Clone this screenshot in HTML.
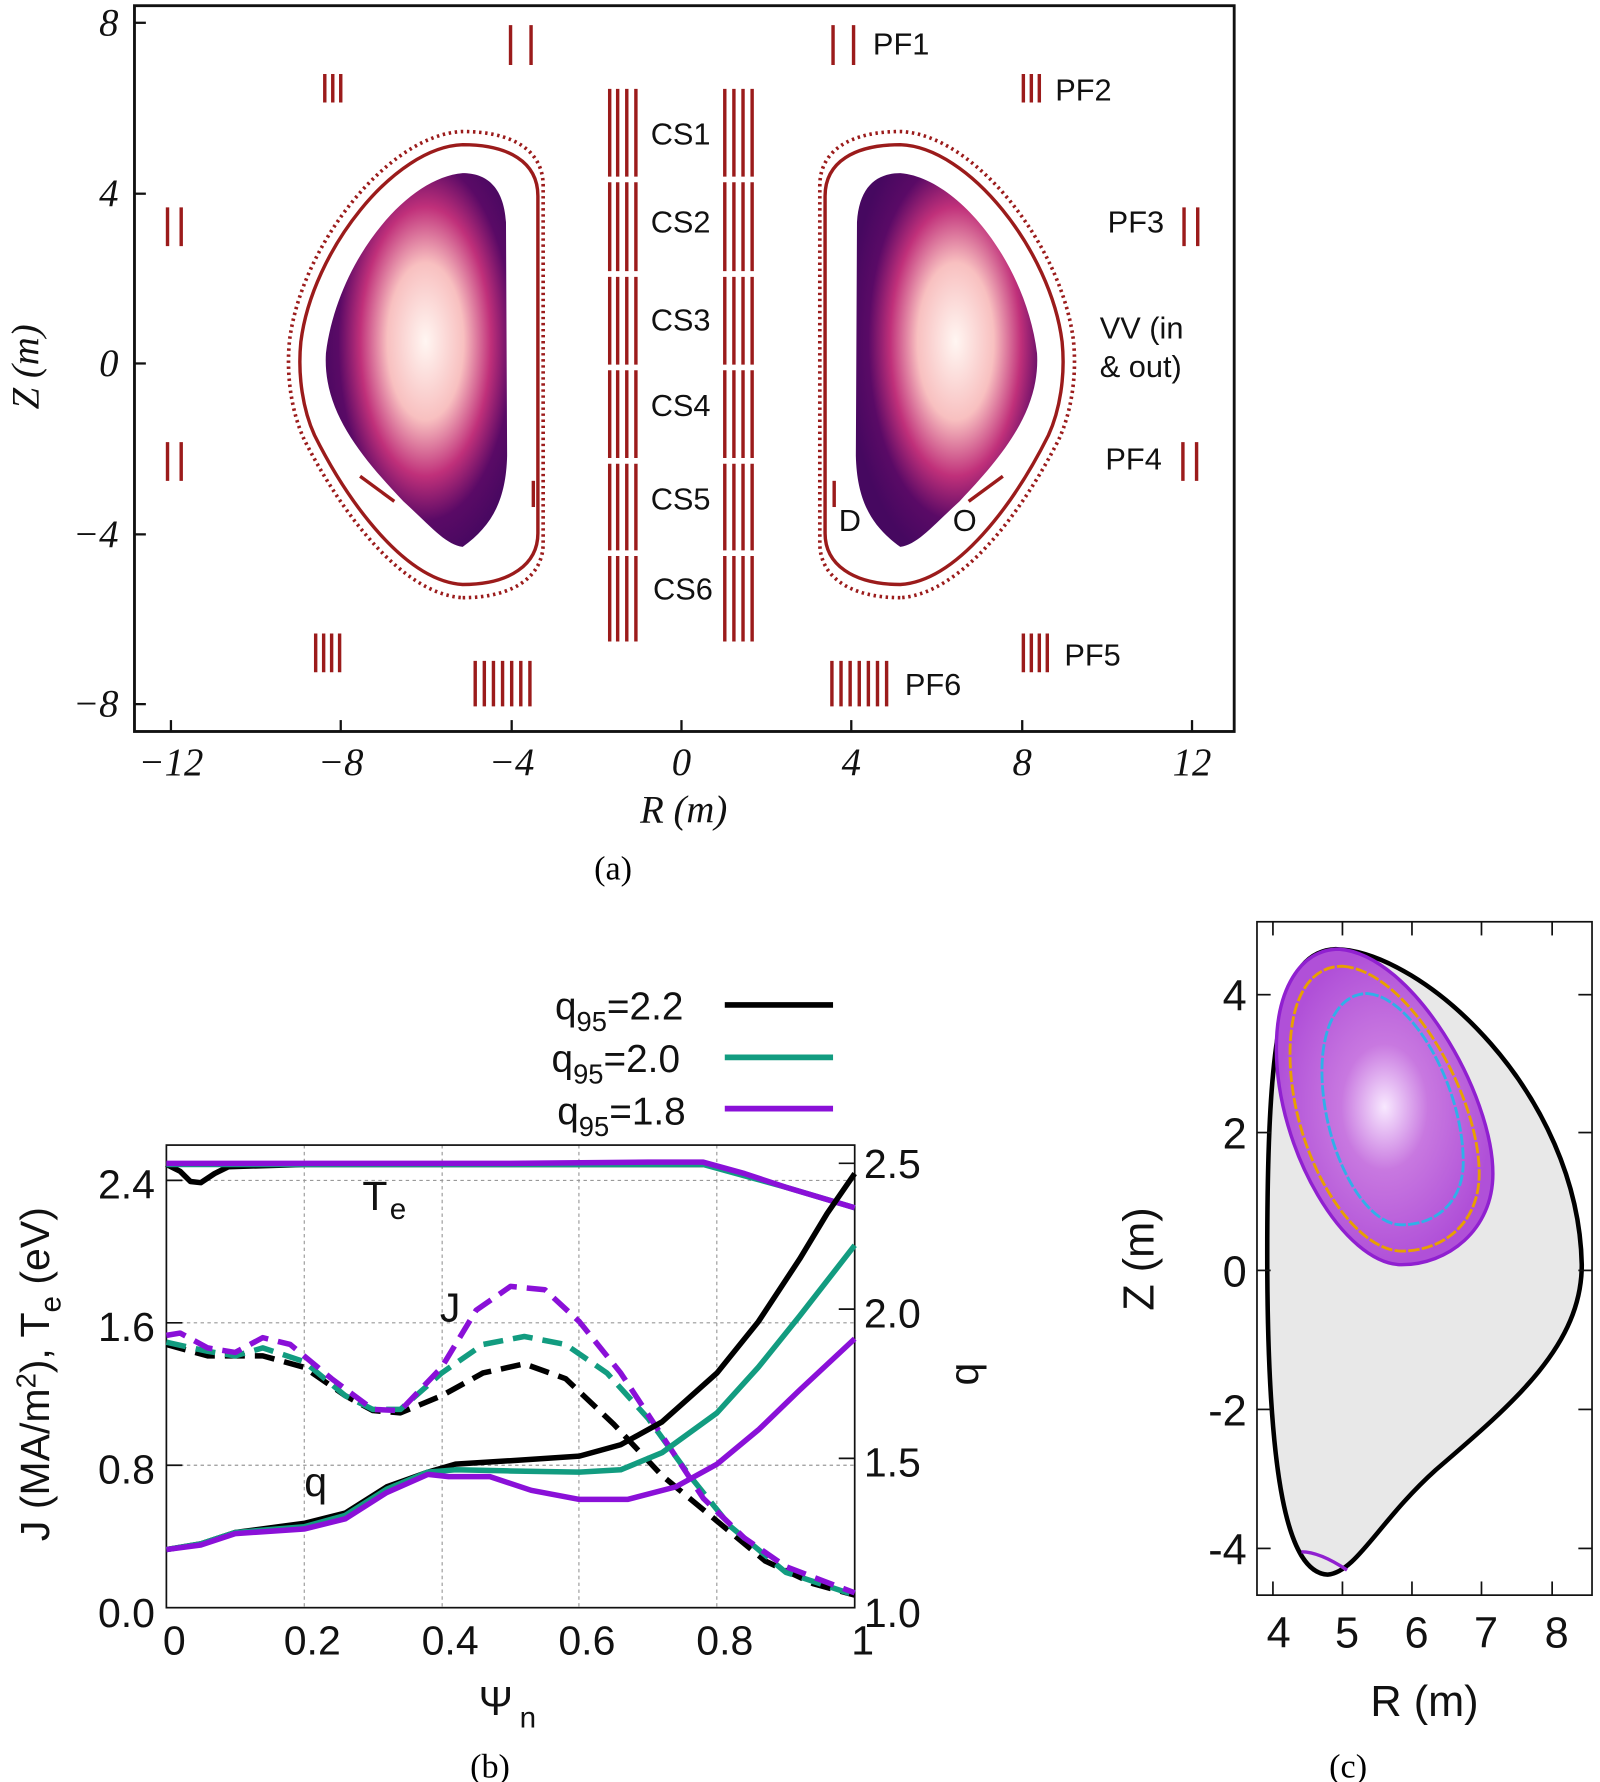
<!DOCTYPE html>
<html><head><meta charset="utf-8"><style>
html,body{margin:0;padding:0;background:#fff}
svg{display:block}
.a{font-family:"Liberation Serif",serif;font-style:italic;font-size:34px;fill:#111}
.s{font-family:"Liberation Sans",sans-serif;fill:#111}
.c{stroke:#9b1b1b;stroke-width:3;fill:none}
</style></head><body>
<svg width="1600" height="1782" viewBox="0 0 1404 1564" preserveAspectRatio="none" xmlns="http://www.w3.org/2000/svg">
<defs>
<radialGradient id="pg" cx="0.55" cy="0.45" r="0.6">
<stop offset="0" stop-color="#fff6f2"/><stop offset="0.35" stop-color="#f8c0c0"/><stop offset="0.6" stop-color="#c0307a"/><stop offset="0.8" stop-color="#5a0a66"/><stop offset="1" stop-color="#460860"/>
</radialGradient>
<radialGradient id="pgl" cx="0.45" cy="0.45" r="0.6">
<stop offset="0" stop-color="#fff6f2"/><stop offset="0.35" stop-color="#f8c0c0"/><stop offset="0.6" stop-color="#c0307a"/><stop offset="0.8" stop-color="#5a0a66"/><stop offset="1" stop-color="#460860"/>
</radialGradient>
<radialGradient id="cg" cx="0.5" cy="0.5" r="0.5">
<stop offset="0" stop-color="#f8e8ff"/><stop offset="0.4" stop-color="#c878e0"/><stop offset="1" stop-color="#b050d8"/>
</radialGradient>
<g id="plasma"><path d="M790,480 C765,462 752,440 751,400 L752,195 C754,163 770,152 790,152 C840,156 900,230 910,310 C913,360 880,400 842,440 C818,462 805,478 790,480 Z"/></g>
<g id="wall"><path d="M790,513 C748,513 724,495 724,468 L724,172 C724,142 750,127 790,127 C850,129 922,220 932,300 C935,330 930,360 920,382 C890,442 840,510 790,513 Z"/></g>
</defs>
<rect x="118" y="5" width="965" height="637" fill="none" stroke="#111" stroke-width="2.5"/>
<g stroke="#111" stroke-width="2">
<line x1="150" y1="642" x2="150" y2="632"/><line x1="299" y1="642" x2="299" y2="632"/><line x1="449" y1="642" x2="449" y2="632"/><line x1="598" y1="642" x2="598" y2="632"/><line x1="747" y1="642" x2="747" y2="632"/><line x1="897" y1="642" x2="897" y2="632"/><line x1="1046" y1="642" x2="1046" y2="632"/>
<line x1="118" y1="20" x2="128" y2="20"/><line x1="118" y1="170" x2="128" y2="170"/><line x1="118" y1="319" x2="128" y2="319"/><line x1="118" y1="469" x2="128" y2="469"/><line x1="118" y1="618" x2="128" y2="618"/>
</g>
<g class="a">
<text x="150" y="680" text-anchor="middle">−12</text><text x="299" y="680" text-anchor="middle">−8</text><text x="449" y="680" text-anchor="middle">−4</text><text x="598" y="680" text-anchor="middle">0</text><text x="747" y="680" text-anchor="middle">4</text><text x="897" y="680" text-anchor="middle">8</text><text x="1046" y="680" text-anchor="middle">12</text>
<text x="104" y="31" text-anchor="end">8</text><text x="104" y="181" text-anchor="end">4</text><text x="104" y="330" text-anchor="end">0</text><text x="104" y="480" text-anchor="end">−4</text><text x="104" y="629" text-anchor="end">−8</text>
<text x="600" y="722" text-anchor="middle">R (m)</text>
<text transform="translate(34,322) rotate(-90)" text-anchor="middle">Z (m)</text>
</g>
<text x="538" y="772" text-anchor="middle" style="font-family:'Liberation Serif',serif;font-size:30px">(a)</text>
<use href="#plasma" fill="url(#pg)"/>
<g transform="translate(1196,0) scale(-1,1)"><use href="#plasma" fill="url(#pgl)"/>
<use href="#wall" class="c" stroke-width="2.5"/>
<g transform="translate(790,320) scale(1.07,1.06) translate(-790,-320)"><use href="#wall" class="c" stroke-width="4" stroke-dasharray="2,3"/></g>
<line class="c" x1="850" y1="440" x2="880" y2="418" stroke-width="2"/><line class="c" x1="728" y1="422" x2="728" y2="445"/></g>
<use href="#wall" class="c" stroke-width="2.5"/>
<g transform="translate(790,320) scale(1.07,1.06) translate(-790,-320)"><use href="#wall" class="c" stroke-width="4" stroke-dasharray="2,3"/></g>
<line class="c" x1="850" y1="440" x2="880" y2="418" stroke-width="2"/><line class="c" x1="732" y1="422" x2="732" y2="445"/>
<g class="c">
<path d="M535,78V155M542,78V155M550,78V155M558,78V155M535,160V238M542,160V238M550,160V238M558,160V238M535,243V320M542,243V320M550,243V320M558,243V320M535,325V402M542,325V402M550,325V402M558,325V402M535,407V483M542,407V483M550,407V483M558,407V483M535,488V563M542,488V563M550,488V563M558,488V563"/>
<path d="M636,78V155M644,78V155M652,78V155M660,78V155M636,160V238M644,160V238M652,160V238M660,160V238M636,243V320M644,243V320M652,243V320M660,243V320M636,325V402M644,325V402M652,325V402M660,325V402M636,407V483M644,407V483M652,407V483M660,407V483M636,488V563M644,488V563M652,488V563M660,488V563"/>
<path d="M448,22V57M466,22V57M731,22V57M749,22V57"/>
<path d="M285,65V90M292,65V90M299,65V90M898,65V90M905,65V90M912,65V90"/>
<path d="M147,182V216M159,182V216M1039,182V216M1051,182V216"/>
<path d="M147,388V422M159,388V422M1038,388V422M1050,388V422"/>
<path d="M277,556V590M284,556V590M291,556V590M298,556V590M898,556V590M905,556V590M912,556V590M919,556V590"/>
<path d="M417,580V620M425,580V620M433,580V620M441,580V620M449,580V620M457,580V620M465,580V620M730,580V620M738,580V620M746,580V620M754,580V620M762,580V620M770,580V620M778,580V620"/>
</g>
<g class="s" style="font-size:27px">
<text x="571" y="127">CS1</text><text x="571" y="204">CS2</text><text x="571" y="290">CS3</text><text x="571" y="365">CS4</text><text x="571" y="447">CS5</text><text x="573" y="526">CS6</text>
<text x="766" y="48">PF1</text><text x="926" y="88">PF2</text><text x="972" y="204">PF3</text><text x="970" y="412">PF4</text><text x="934" y="584">PF5</text><text x="794" y="610">PF6</text>
<text x="965" y="297">VV (in</text><text x="965" y="331">&amp; out)</text>
<text x="736" y="466">D</text><text x="836" y="466">O</text>
</g>
<g stroke="#999" stroke-width="1" stroke-dasharray="3,3">
<line x1="267" y1="1005" x2="267" y2="1411"/><line x1="388" y1="1005" x2="388" y2="1411"/><line x1="508" y1="1005" x2="508" y2="1411"/><line x1="629" y1="1005" x2="629" y2="1411"/>
<line x1="146" y1="1036" x2="750" y2="1036"/><line x1="146" y1="1161" x2="750" y2="1161"/><line x1="146" y1="1286" x2="750" y2="1286"/>
</g>
<rect x="146" y="1005" width="604" height="406" fill="none" stroke="#111" stroke-width="1.5"/>
<g stroke="#111" stroke-width="1.5"><line x1="146" y1="1036" x2="160" y2="1036"/><line x1="146" y1="1161" x2="160" y2="1161"/><line x1="146" y1="1286" x2="160" y2="1286"/><line x1="736" y1="1021" x2="750" y2="1021"/><line x1="736" y1="1149" x2="750" y2="1149"/><line x1="736" y1="1280" x2="750" y2="1280"/></g>
<g transform="translate(146,0) scale(604,1)" fill="none" stroke-linejoin="round">
<polyline vector-effect="non-scaling-stroke" stroke="#000" stroke-width="5.5" points="0,1022 0.02,1028 0.035,1037 0.05,1038 0.07,1030 0.09,1024 0.2,1022 0.78,1022"/>
<polyline vector-effect="non-scaling-stroke" stroke="#129c80" stroke-width="5.5" points="0,1022 0.78,1022 0.84,1032 0.9,1042 1,1060"/>
<polyline vector-effect="non-scaling-stroke" stroke="#8a10d8" stroke-width="5.5" points="0,1021 0.5,1021 0.7,1020 0.78,1020 0.84,1030 0.9,1042 1,1060"/>
<polyline vector-effect="non-scaling-stroke" stroke="#000" stroke-width="5.5" stroke-dasharray="20,10" points="0,1180 0.06,1190 0.14,1190 0.2,1200 0.26,1225 0.3,1238 0.34,1240 0.4,1225 0.46,1205 0.52,1197 0.58,1210 0.65,1250 0.72,1295 0.8,1335 0.87,1370 0.94,1390 1,1400"/>
<polyline vector-effect="non-scaling-stroke" stroke="#129c80" stroke-width="5.5" stroke-dasharray="20,10" points="0,1178 0.06,1186 0.1,1190 0.14,1183 0.2,1195 0.26,1225 0.3,1237 0.34,1237 0.4,1205 0.46,1180 0.52,1173 0.58,1180 0.64,1205 0.7,1245 0.76,1295 0.82,1340 0.9,1380 1,1400"/>
<polyline vector-effect="non-scaling-stroke" stroke="#8a10d8" stroke-width="5.5" stroke-dasharray="20,10" points="0,1172 0.02,1170 0.06,1183 0.1,1187 0.14,1174 0.18,1180 0.24,1210 0.3,1237 0.34,1238 0.4,1200 0.45,1150 0.5,1129 0.55,1132 0.6,1160 0.66,1205 0.72,1260 0.78,1315 0.84,1350 0.9,1375 1,1398"/>
<polyline vector-effect="non-scaling-stroke" stroke="#000" stroke-width="5.5" points="0,1360 0.05,1355 0.1,1345 0.2,1337 0.26,1328 0.32,1305 0.38,1292 0.42,1285 0.5,1282 0.6,1278 0.66,1268 0.72,1248 0.8,1205 0.86,1160 0.92,1105 0.96,1065 1,1030"/>
<polyline vector-effect="non-scaling-stroke" stroke="#129c80" stroke-width="5.5" points="0,1360 0.05,1355 0.1,1345 0.2,1340 0.26,1330 0.32,1307 0.38,1292 0.42,1290 0.5,1291 0.6,1292 0.66,1290 0.72,1275 0.8,1240 0.86,1200 0.92,1155 1,1093"/>
<polyline vector-effect="non-scaling-stroke" stroke="#8a10d8" stroke-width="5.5" points="0,1360 0.05,1356 0.1,1346 0.2,1342 0.26,1333 0.32,1310 0.38,1294 0.41,1296 0.47,1296 0.53,1308 0.6,1316 0.67,1316 0.74,1305 0.8,1285 0.86,1255 0.92,1220 1,1175"/>
</g>
<g class="s" style="font-size:36px">
<text x="318" y="1062">T</text><text x="342" y="1070" style="font-size:26px">e</text>
<text x="386" y="1160">J</text><text x="267" y="1313">q</text>
<text x="136" y="1052" text-anchor="end">2.4</text><text x="136" y="1177" text-anchor="end">1.6</text><text x="136" y="1302" text-anchor="end">0.8</text><text x="136" y="1428" text-anchor="end">0.0</text>
<text x="758" y="1034">2.5</text><text x="758" y="1165">2.0</text><text x="758" y="1296">1.5</text><text x="758" y="1428">1.0</text>
<text x="153" y="1452" text-anchor="middle">0</text><text x="274" y="1452" text-anchor="middle">0.2</text><text x="395" y="1452" text-anchor="middle">0.4</text><text x="515" y="1452" text-anchor="middle">0.6</text><text x="636" y="1452" text-anchor="middle">0.8</text><text x="757" y="1452" text-anchor="middle">1</text>
<text x="420" y="1505">Ψ</text><text x="456" y="1516" style="font-size:26px">n</text>
<text transform="translate(43,1206) rotate(-90)" text-anchor="middle">J (MA/m<tspan dy="-12" font-size="24">2</tspan><tspan dy="12">),  T</tspan><tspan dy="10" font-size="26">e</tspan><tspan dy="-10"> (eV)</tspan></text>
<text transform="translate(858,1206) rotate(-90)" text-anchor="middle">q</text>
</g>
<g class="s" style="font-size:34px">
<text x="487" y="895">q<tspan dy="10" font-size="24">95</tspan><tspan dy="-10">=2.2</tspan></text>
<text x="484" y="941">q<tspan dy="10" font-size="24">95</tspan><tspan dy="-10">=2.0</tspan></text>
<text x="489" y="987">q<tspan dy="10" font-size="24">95</tspan><tspan dy="-10">=1.8</tspan></text>
</g>
<line x1="636" y1="882" x2="731" y2="882" stroke="#000" stroke-width="5"/>
<line x1="636" y1="928" x2="731" y2="928" stroke="#129c80" stroke-width="5"/>
<line x1="636" y1="973" x2="731" y2="973" stroke="#8a10d8" stroke-width="5"/>
<text x="430" y="1560" text-anchor="middle" style="font-family:'Liberation Serif',serif;font-size:30px">(b)</text>
<rect x="1103" y="809" width="294" height="591" fill="none" stroke="#111" stroke-width="1.5"/>
<path d="M1172,833 C1250,835 1385,960 1388,1110 C1388,1180 1330,1230 1260,1290 C1210,1335 1190,1380 1165,1382 C1130,1380 1112,1300 1112,1100 C1112,900 1125,835 1172,833 Z" fill="#e8e8e8" stroke="#000" stroke-width="4"/>
<path d="M1175,833 C1240,838 1310,960 1310,1030 C1310,1080 1270,1110 1230,1110 C1180,1110 1120,1010 1120,920 C1120,870 1140,833 1175,833 Z" fill="url(#cg)" stroke="#9020d0" stroke-width="3"/>
<path d="M1178,848 C1235,852 1298,960 1298,1030 C1298,1075 1265,1098 1230,1098 C1185,1098 1132,1010 1132,925 C1132,878 1148,848 1178,848 Z" fill="none" stroke="#e8a000" stroke-width="2.5" stroke-dasharray="10,2"/>
<path d="M1200,872 C1240,875 1284,955 1284,1020 C1284,1055 1260,1075 1230,1075 C1195,1075 1160,1005 1160,940 C1160,900 1175,872 1200,872 Z" fill="none" stroke="#30b0e8" stroke-width="2.5" stroke-dasharray="10,2"/>
<path d="M1142,1362 C1155,1362 1170,1370 1182,1378" fill="none" stroke="#9020d0" stroke-width="3"/>
<g stroke="#111" stroke-width="1.5">
<line x1="1117" y1="809" x2="1117" y2="821"/><line x1="1178" y1="809" x2="1178" y2="821"/><line x1="1239" y1="809" x2="1239" y2="821"/><line x1="1300" y1="809" x2="1300" y2="821"/><line x1="1362" y1="809" x2="1362" y2="821"/>
<line x1="1117" y1="1400" x2="1117" y2="1388"/><line x1="1178" y1="1400" x2="1178" y2="1388"/><line x1="1239" y1="1400" x2="1239" y2="1388"/><line x1="1300" y1="1400" x2="1300" y2="1388"/><line x1="1362" y1="1400" x2="1362" y2="1388"/>
<line x1="1103" y1="873" x2="1115" y2="873"/><line x1="1103" y1="994" x2="1115" y2="994"/><line x1="1103" y1="1115" x2="1115" y2="1115"/><line x1="1103" y1="1237" x2="1115" y2="1237"/><line x1="1103" y1="1359" x2="1115" y2="1359"/>
<line x1="1397" y1="873" x2="1385" y2="873"/><line x1="1397" y1="994" x2="1385" y2="994"/><line x1="1397" y1="1115" x2="1385" y2="1115"/><line x1="1397" y1="1237" x2="1385" y2="1237"/><line x1="1397" y1="1359" x2="1385" y2="1359"/>
</g>
<g class="s" style="font-size:38px">
<text x="1094" y="887" text-anchor="end">4</text><text x="1094" y="1008" text-anchor="end">2</text><text x="1094" y="1129" text-anchor="end">0</text><text x="1094" y="1251" text-anchor="end">-2</text><text x="1094" y="1373" text-anchor="end">-4</text>
<text x="1122" y="1446" text-anchor="middle">4</text><text x="1182" y="1446" text-anchor="middle">5</text><text x="1243" y="1446" text-anchor="middle">6</text><text x="1304" y="1446" text-anchor="middle">7</text><text x="1366" y="1446" text-anchor="middle">8</text>
<text x="1250" y="1506" text-anchor="middle">R (m)</text>
<text transform="translate(1012,1105) rotate(-90)" text-anchor="middle">Z (m)</text>
</g>
<text x="1183" y="1560" text-anchor="middle" style="font-family:'Liberation Serif',serif;font-size:30px">(c)</text>
</svg>
</body></html>
